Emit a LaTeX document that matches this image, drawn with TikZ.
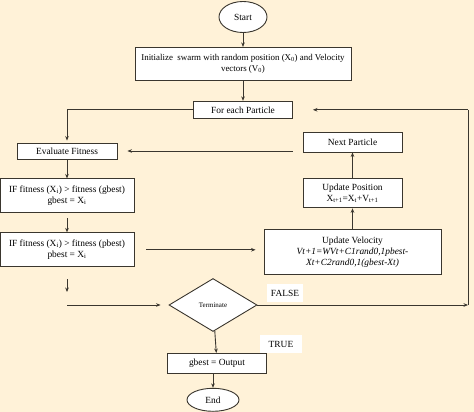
\documentclass[tikz,border=0pt]{standalone}
\usepackage{fontspec}
\setmainfont{Liberation Serif}
\usetikzlibrary{positioning,shapes.geometric,arrows.meta}

\definecolor{paper}{HTML}{FFF2D8}
\definecolor{ink}{HTML}{3A362E}

\tikzset{
  box/.style={draw=ink, fill=white, rectangle, inner sep=1pt, align=center,
              font=\fontsize{9.4}{11}\selectfont},
  oval/.style={draw=ink, fill=white, ellipse, inner sep=0pt,
               font=\fontsize{9.4}{11}\selectfont},
  decision/.style={draw=ink, fill=white, diamond, aspect=1.66, inner sep=0pt,
                   minimum width=88pt, minimum height=53pt,
                   font=\fontsize{7}{8}\selectfont},
  flag/.style={fill=white, inner sep=0pt, font=\fontsize{9.4}{11}\selectfont},
  arr/.style={draw=ink, -{Stealth[length=4.5pt,width=3.6pt]}},
  wire/.style={draw=ink}
}

\begin{document}
\begin{tikzpicture}[x=1pt, y=-1pt, line width=0.9pt]

  \fill[paper] (0,0) rectangle (474,412);
  \useasboundingbox (0,0) rectangle (474,412);

  % Define nodes
  \node[oval, minimum width=48pt, minimum height=31pt] at (243,17) (start) {Start};
  \node[box, below=14pt of start, minimum width=216pt, minimum height=33pt,
        font=\fontsize{8.9}{11}\selectfont] (init)
       {Initialize\ \ swarm with random position (X\textsubscript{0}) and Velocity\\vectors (V\textsubscript{0})};
  \node[box, below=20pt of init, minimum width=99pt, minimum height=17pt] (each) {For each Particle};
  \node[box, minimum width=100pt, minimum height=16pt] at (67,151) (eval) {Evaluate Fitness};
  \node[box, below=19pt of eval, minimum width=134pt, minimum height=34pt] (gb)
       {IF fitness (X\textsubscript{i}) \textgreater{} fitness (gbest)\\gbest = X\textsubscript{i}};
  \node[box, below=19pt of gb, minimum width=134pt, minimum height=34pt] (pb)
       {IF fitness (X\textsubscript{i}) \textgreater{} fitness (pbest)\\pbest = X\textsubscript{i}};
  \node[box, minimum width=99pt, minimum height=20pt] at (352.5,142) (next) {Next Particle};
  \node[box, below=26pt of next, minimum width=99pt, minimum height=29pt] (pos)
       {Update Position\\X\textsubscript{t+1}=X\textsubscript{t}+V\textsubscript{t+1}};
  \node[box, below=21pt of pos, minimum width=177pt, minimum height=45pt] (vel)
       {Update Velocity\\\textit{Vt+1=WVt+C1rand0,1pbest-}\\\textit{Xt+C2rand0,1(gbest-Xt)}};
  \node[decision] at (213,305) (term) {Terminate};
  \node[box, below=21pt of term, xshift=4pt, minimum width=99pt, minimum height=20pt] (out) {gbest = Output};
  \node[oval, below=14pt of out, xshift=-4pt, minimum width=52pt, minimum height=23pt] (stop) {End};
  \node[flag, minimum width=36pt, minimum height=18pt] at (285,293) (no) {FALSE};
  \node[flag, minimum width=42pt, minimum height=18pt] at (281,344) (yes) {TRUE};

  % Turning points
  \coordinate (loop)   at (468,305);
  \coordinate (pbdown) at (67,292);

  % Connect the nodes
  \draw[arr] (start) -- (init);
  \draw[arr] (init) -- (each);
  \draw[arr, shorten >=2pt] (each.west) -| (eval.north);
  \draw[arr] (eval) -- (gb);
  \draw[arr, shorten <=5pt] (gb) -- (pb);
  \draw[arr, shorten <=12pt] (pb.south) -- (pbdown);
  \draw[arr, shorten >=8pt] (pbdown |- term.west) -- (term.west);
  \draw[arr, shorten <=12pt, shorten >=8pt] (pb.east) -- (pb.east -| vel.west);
  \draw[arr] (vel) -- (pos);
  \draw[arr] (pos) -- (next);
  \draw[arr, shorten <=10pt, shorten >=10pt] (next.west |- eval.east) -- (eval.east);
  \draw[arr] (term.east) -- (loop);
  \draw[wire] (loop) -- (loop |- each.east);
  \draw[arr, shorten >=20pt] (loop |- each.east) -- (each.east);
  \draw[arr] (term) -- (out);
  \draw[arr] (out.south -| stop.north) -- (stop);

\end{tikzpicture}
\end{document}
